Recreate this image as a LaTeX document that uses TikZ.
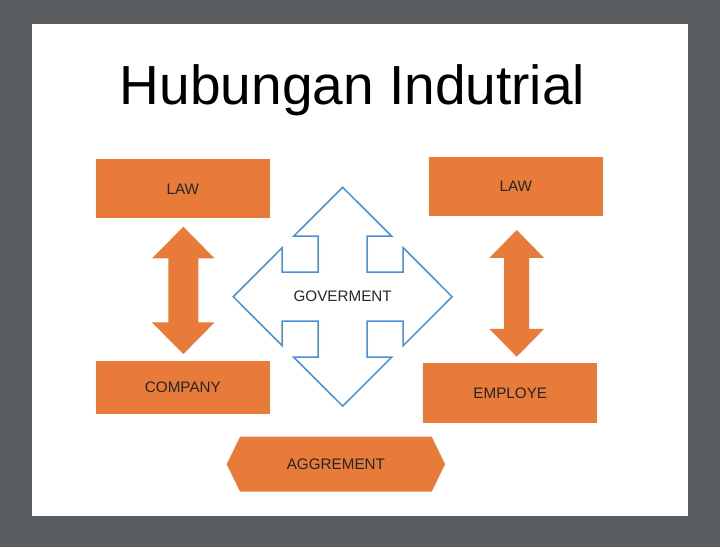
\documentclass[tikz,border=0pt]{standalone}
\usepackage{fontspec}
\setmainfont{Liberation Sans}
\usetikzlibrary{shapes.symbols}
\definecolor{slidegray}{RGB}{90,94,96}
\definecolor{boxorange}{RGB}{232,122,58}
\definecolor{govblue}{RGB}{74,144,217}
\tikzset{
  labelbox/.style={fill=boxorange, text=black!85, inner sep=0pt,
    font=\fontsize{13}{15}\selectfont},
  agreebox/.style={labelbox, shape=signal, signal to=east and west,
    signal pointer angle=128},
}
% vertical block arrow: half length, head length, head half width, shaft half width
\newcommand{\vertarrow}[4]{(0,-#1) -- (#3,-#1+#2) -- (#4,-#1+#2) -- (#4,#1-#2)
  -- (#3,#1-#2) -- (0,#1) -- (-#3,#1-#2) -- (-#4,#1-#2) -- (-#4,-#1+#2)
  -- (-#3,-#1+#2) -- cycle}
\begin{document}
\begin{tikzpicture}[x=0.03cm, y=-0.03cm]
    \fill[slidegray] (0,0) rectangle (720,547);
    \fill[white] (32,24) rectangle (688,516);
    \node[anchor=base, font=\fontsize{47}{50}\selectfont] (title) at (352.5,104) {Hubungan Indutrial};
    % boxes
    \node[labelbox, minimum width=5.23cm, minimum height=1.77cm] (lawL) at (182.9,188.8) {LAW};
    \node[labelbox, minimum width=5.23cm, minimum height=1.60cm] (company) at (182.9,387.4) {COMPANY};
    \node[labelbox, minimum width=5.21cm, minimum height=1.78cm] (lawR) at (515.9,186.4) {LAW};
    \node[labelbox, minimum width=5.22cm, minimum height=1.78cm] (employe) at (510.3,393) {EMPLOYE};
    \node[agreebox, minimum width=6.55cm, minimum height=1.65cm] (agree) at (335.9,464.2) {AGGREMENT};
    % double arrows
    \coordinate (arrL) at (183.3,290.4); \coordinate (arrR) at (516.7,293.4);
    \fill[boxorange, shift={(arrL)}] \vertarrow{63.65}{31.6}{31.15}{15};
    \fill[boxorange, shift={(arrR)}] \vertarrow{63.35}{27.9}{27.35}{12.5};
    % goverment
    \coordinate (G) at (342.7,296.7);
    \draw[govblue, line width=1.3pt, line join=miter, shift={(G)}]
      (0,-109.4) -- (49,-60.5) -- (24.5,-60.5) -- (24.5,-24.5) -- (60.5,-24.5)
      -- (60.5,-49) -- (109.4,0) -- (60.5,49) -- (60.5,24.5) -- (24.5,24.5)
      -- (24.5,60.5) -- (49,60.5) -- (0,109.4) -- (-49,60.5) -- (-24.5,60.5)
      -- (-24.5,24.5) -- (-60.5,24.5) -- (-60.5,49) -- (-109.4,0) -- (-60.5,-49)
      -- (-60.5,-24.5) -- (-24.5,-24.5) -- (-24.5,-60.5) -- (-49,-60.5) -- cycle;
    \node[text=black!85, font=\fontsize{13}{15}\selectfont] (gov) at (G) {GOVERMENT};
\end{tikzpicture}
\end{document}
